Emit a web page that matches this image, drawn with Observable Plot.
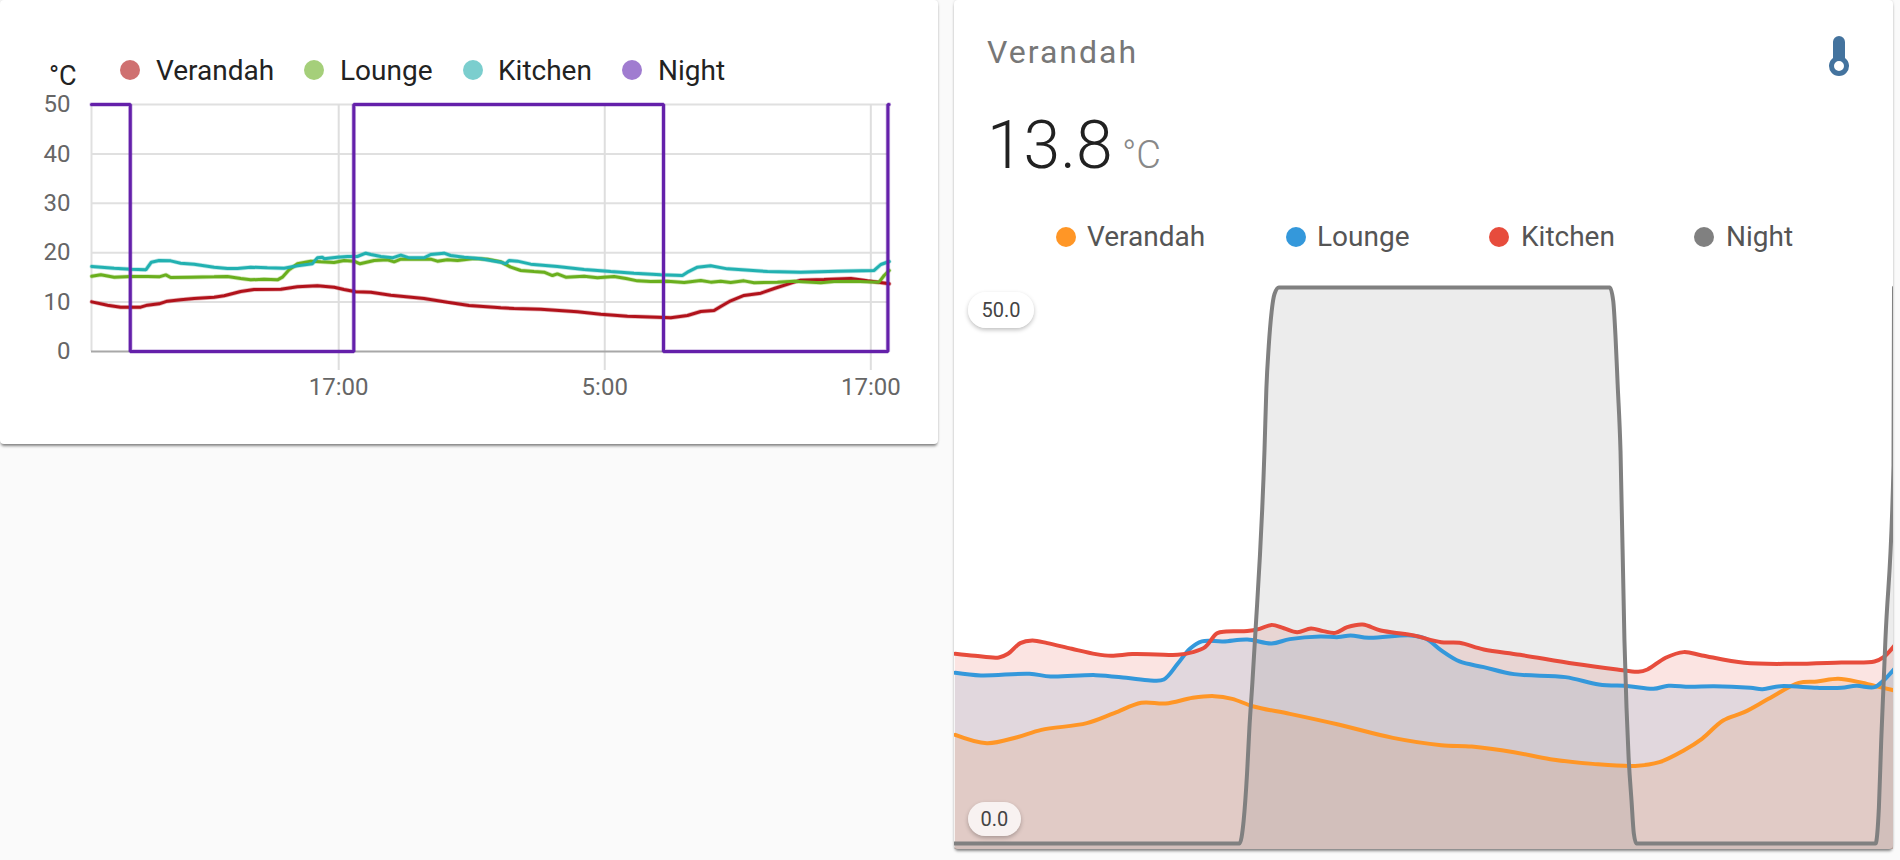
<!DOCTYPE html>
<html><head><meta charset="utf-8">
<script src="https://cdn.jsdelivr.net/npm/d3@7"></script>
<script src="https://cdn.jsdelivr.net/npm/@observablehq/plot@0.6"></script>
<style>
html,body{margin:0;padding:0;width:1900px;height:860px;overflow:hidden;background:#fafafa;font-family:Roboto,sans-serif}
.card{position:absolute;background:#fff;border-radius:4px;box-shadow:0 3px 3px -1px rgba(0,0,0,.45),0 0 3px rgba(0,0,0,.14)}
.t{position:absolute;line-height:1;white-space:nowrap}
.dot{position:absolute;width:20px;height:20px;border-radius:50%}
.pill{position:absolute;background:rgba(255,255,255,.75);border-radius:18px;box-shadow:0 2px 4px rgba(0,0,0,.25);text-align:center;font-size:20px;color:#444}
</style></head><body>
<div class="card" style="left:0;top:0;width:938px;height:444px"></div>
<div class="card" style="left:954px;top:0;width:939px;height:849px"></div>
<div id="root"></div>
<svg style="position:absolute;left:1814.5px;top:32px" width="48" height="48" viewBox="0 0 24 24"><path fill="#44739e" fill-rule="evenodd" d="M15 13V5A3 3 0 0 0 9 5V13A5 5 0 1 0 15 13ZM12 14.5A2.5 2.5 0 1 1 12 19.5A2.5 2.5 0 1 1 12 14.5Z"/></svg>
<script>
const seriesNames = ["Verandah","Lounge","Kitchen","Night"];
const leftColors = ["#b1121b","#6aaf1e","#22b1b1","#6420aa"];
const leftDots = ["#cf7070","#a5cf7a","#7bcece","#a07cd0"];
const rightColors = ["#ff9626","#3498db","#e74c3c","#808080"];
const yTicks = [0,10,20,30,40,50];
const xTicks = [17,29,41];
const xTickLabels = ["17:00","5:00","17:00"];

// Left chart: hours since midnight of the first day
const leftVerandahH = [5.86,6.57,7.17,8.07,8.37,8.9,9.27,9.87,10.48,11.38,11.83,12.58,13.18,14.39,15.14,16.04,16.79,17.24,17.77,18.45,19.35,20.85,21.9,22.88,24.31,24.91,26.11,27.77,28.82,30.02,31.37,31.98,32.73,33.33,33.93,34.23,34.68,35.28,36.04,36.64,37.54,37.84,38.89,40.1,40.85,41.83];
const leftVerandahV = [10.05,9.38,8.97,8.97,9.38,9.65,10.19,10.46,10.73,11,11.27,12.15,12.55,12.62,13.09,13.29,13.02,12.55,12.08,12.01,11.4,10.73,9.99,9.31,8.84,8.7,8.57,8.03,7.56,7.15,6.95,6.82,7.29,8.1,8.3,9.11,10.26,11.34,11.81,12.75,14.04,14.44,14.57,14.78,14.3,13.7];
const leftLoungeH = [5.86,6.27,6.87,7.62,8.37,8.9,9.2,9.42,10.33,11.38,11.98,12.58,13.03,13.63,14.24,14.46,14.76,15.14,15.74,16.19,16.79,17.24,17.69,17.96,18.6,19.2,19.5,19.8,20.4,21.15,21.45,21.9,22.36,23.11,23.71,24.31,24.76,25.21,25.81,26.26,26.64,26.86,27.24,28.07,28.67,29.42,30.02,30.47,31.07,31.83,32.58,33.33,33.78,34.23,34.68,35.28,35.74,36.79,37.54,38.74,39.34,40.25,41.37,41.6,41.83];
const leftLoungeV = [15.25,15.52,15.05,15.18,15.18,15.11,15.52,14.98,15.05,15.11,15.18,14.78,14.51,14.64,14.51,15.05,16.53,17.75,18.29,18.15,18.02,18.42,18.29,17.75,18.42,18.56,18.15,18.69,18.69,18.69,18.29,18.56,18.42,18.83,18.69,18.15,17.07,16.4,16.19,16.06,15.38,15.72,15.05,15.25,14.91,15.18,14.71,14.3,14.17,14.24,13.97,14.37,14.04,14.24,13.97,14.3,13.9,14.04,14.24,13.9,14.17,14.24,14.04,15.38,16.4];
const leftKitchenH = [5.86,6.87,7.62,8.3,8.55,8.9,9.42,9.87,10.48,11.38,11.98,12.43,13.03,13.78,14.54,15.14,15.81,16.04,16.27,16.34,16.94,17.39,17.84,18.22,18.45,18.9,19.42,19.8,20.18,20.85,21.15,21.75,22.05,22.66,23.41,24.31,24.53,24.68,25.06,25.66,26.86,28.07,29.27,30.32,31.52,32.5,32.73,33.18,33.78,34.53,36.34,37.84,39.5,41.15,41.45,41.83];
const leftKitchenV = [17.2,16.87,16.67,16.53,18.08,18.42,18.35,17.88,17.68,17.07,16.8,16.8,17.07,16.94,16.87,17.34,17.75,18.96,19.1,18.76,19.1,19.23,19.23,19.9,19.64,19.23,18.96,19.5,18.96,18.96,19.64,19.9,19.43,19.1,18.76,18.08,17.75,18.42,18.29,17.68,17.2,16.6,16.19,15.86,15.52,15.38,16.06,17.07,17.34,16.73,16.19,16.06,16.26,16.4,17.61,18.22];
const leftNightH = [5.85,7.6,7.6,17.68,17.68,31.65,31.65,41.77,41.77,41.82];
const leftNightV = [50,50,0,0,50,50,0,0,50,50];

// Right chart: smoothed readings
const rightVerandahH = [5.88,7.09,8.25,9.18,10.92,11.97,13.01,13.94,14.98,15.8,16.49,17.31,18.7,20.56,22.65,24.5,25.67,27.29,28.68,30.31,31.93,32.86,33.79,34.49,35.3,36.11,37.04,38.2,38.9,39.71,40.53,41.22,41.87];
const rightVerandahV = [9.77,9.02,9.56,10.22,10.82,11.72,12.65,12.59,13.1,13.25,13.01,12.32,11.66,10.7,9.5,8.84,8.72,8.21,7.58,7.16,6.98,7.31,8.36,9.41,11.06,11.81,13.01,14.45,14.57,14.81,14.51,14.12,13.76];
const rightLoungeH = [5.88,6.86,8.72,9.53,11.27,12.43,13.36,13.87,14.4,14.87,15.33,16.15,17.07,18,18.7,19.86,20.56,21.02,21.72,23.34,23.92,24.5,25.2,26.13,27.29,29.26,30.54,31.7,32.63,33.21,34.02,34.95,36.35,36.81,37.5,38.9,39.83,40.41,41.1,41.45,41.87];
const rightLoungeV = [15.35,15.11,15.26,15.02,15.14,14.9,14.66,14.75,16.16,17.51,18.17,18.17,18.35,17.99,18.38,18.62,18.56,18.71,18.5,18.71,18.41,17.36,16.37,15.86,15.23,14.96,14.3,14.15,13.91,14.18,14.09,14.15,14,13.88,14.15,14,14,14.18,14.06,14.66,15.71];
const rightKitchenH = [5.88,6.63,7.55,7.9,8.37,8.83,9.41,10.34,11.27,11.85,12.66,13.59,14.4,14.98,15.45,15.91,16.26,17.07,17.54,18,18.47,18.98,19.51,19.98,20.44,20.9,21.49,22.18,23.34,24.5,25.2,26.13,27.52,29.61,31.24,32.05,32.4,33.1,33.79,34.49,36.11,37.97,39.83,41.1,41.45,41.87];
const rightKitchenV = [17.06,16.88,16.73,17.06,18.02,18.26,18.02,17.51,17.03,16.88,17.03,17,16.97,17.21,17.66,18.91,19.06,19.1,19.3,19.66,19.36,19,19.33,19.1,18.94,19.45,19.69,19.15,18.76,18.1,18.05,17.45,16.97,16.16,15.65,15.44,15.65,16.7,17.21,16.91,16.25,16.16,16.28,16.37,16.76,17.81];
const rightNightH = [5.85,16.77,16.93,17.06,17.15,17.26,17.36,17.73,17.8,17.89,18,18.11,18.28,30.96,31.09,31.18,31.26,31.37,31.52,31.6,31.68,31.79,31.88,31.98,41.14,41.27,41.36,41.44,41.52,41.83,41.85];
const rightNightV = [0,0,2.07,6.3,10.4,14.3,18.2,35.5,40.9,44.7,47.8,49.4,50,50,48.8,45.5,41.3,35.3,18.3,12.2,7.75,3.9,0.9,0,0,3.2,9.3,13.8,18.3,34,50];

const zip = (hs, vs) => hs.map((h,i) => ({h, v:vs[i]}));
const root = document.getElementById("root");
const H0 = 5.85, H1 = 41.82;
const svgStyle = l => ({position:"absolute",left:l,top:"0",background:"transparent",maxWidth:"none",overflow:"hidden"});

// LEFT CHART
const leftSeries = [zip(leftVerandahH,leftVerandahV),zip(leftLoungeH,leftLoungeV),zip(leftKitchenH,leftKitchenV),zip(leftNightH,leftNightV)];
const left = Plot.plot({
  width:938, height:443, marginLeft:91, marginRight:49.5, marginTop:104, marginBottom:92,
  style:svgStyle("0px"),
  x:{domain:[H0,H1], type:"linear"}, y:{domain:[0,50]},
  marks:[
    Plot.ruleY(yTicks.filter(d=>d>0), {stroke:"#e0e0e0", strokeWidth:2}),
    Plot.ruleX([H0], {stroke:"#e0e0e0", strokeWidth:2, y1:0, y2:50}),
    Plot.ruleX(xTicks, {stroke:"#dedede", strokeWidth:2, y1:-3.85, y2:50}),
    Plot.ruleY([0], {stroke:"#a8a8a8", strokeWidth:2}),
    Plot.axisY({ticks:yTicks, tickSize:0, tickPadding:21, fontSize:24, color:"#666", label:null, fontFamily:"Roboto"}),
    Plot.axisX({ticks:xTicks, tickFormat:(d,i)=>xTickLabels[i], tickSize:0, tickPadding:26, fontSize:24, color:"#666", label:null, fontFamily:"Roboto"}),
    ...leftSeries.map((s,i)=>Plot.line(s,{x:"h",y:"v",stroke:leftColors[i],strokeWidth:4.5,strokeOpacity:.3,strokeLinejoin:"miter"})),
    ...leftSeries.map((s,i)=>Plot.line(s,{x:"h",y:"v",stroke:leftColors[i],strokeWidth:3,strokeLinejoin:"miter"}))
  ]
});
root.appendChild(left);

// RIGHT CHART
const yFloor = -0.54;
const rightSeries = [zip(rightVerandahH,rightVerandahV),zip(rightLoungeH,rightLoungeV),zip(rightKitchenH,rightKitchenV),zip(rightNightH,rightNightV)];
const curveOf = i => i==3 ? "monotone-x" : "catmull-rom";
const right = Plot.plot({
  width:939, height:849, marginLeft:0, marginRight:0, marginTop:287, marginBottom:0,
  style:svgStyle("954px"),
  x:{domain:[H0,41.83], type:"linear", axis:null}, y:{domain:[yFloor,50], axis:null},
  marks:[
    ...[0,1,2,3].map(i=>Plot.areaY(rightSeries[i],{x:"h",y1:yFloor,y2:"v",fill:rightColors[i],fillOpacity:.15,curve:curveOf(i)})),
    ...[0,1,2,3].map(i=>Plot.line(rightSeries[i],{x:"h",y:"v",stroke:rightColors[i],strokeWidth:4,curve:curveOf(i)}))
  ]
});
root.appendChild(right);

// TEXT
function text(str,l,t,fs,color,extra){const e=document.createElement("div");e.className="t";e.textContent=str;e.style.cssText+=`left:${l}px;top:${t}px;font-size:${fs}px;color:${color};${extra||""}`;document.body.appendChild(e);}
function dot(cx,cy,c){const e=document.createElement("div");e.className="dot";e.style.cssText+=`left:${cx-10}px;top:${cy-10}px;background:${c}`;document.body.appendChild(e);}
text("°C",49,63,27,"#222");
const lDot=[130,314,473,632], lText=[156,340,498,658];
seriesNames.forEach((n,i)=>{dot(lDot[i],70,leftDots[i]);text(n,lText[i],56.5,28,"#222");});
const rDot=[1066,1296,1498.5,1704], rText=[1087,1317,1521,1726];
seriesNames.forEach((n,i)=>{dot(rDot[i],237,rightColors[i]);text(n,rText[i],223,28,"#555");});
text(seriesNames[0],987,36,32,"#777","letter-spacing:2px");
text("13.8",987,112.5,66,"#212121","font-weight:300");
text("°C",1122,136,38,"#888","font-weight:300");
function pill(str,l,t,w,h){const e=document.createElement("div");e.className="pill";e.textContent=str;e.style.cssText+=`left:${l}px;top:${t}px;width:${w}px;height:${h}px;line-height:${h}px`;document.body.appendChild(e);}
pill("50.0",968,292,66,36);
pill("0.0",968,802,53,34);
</script>
</body></html>
